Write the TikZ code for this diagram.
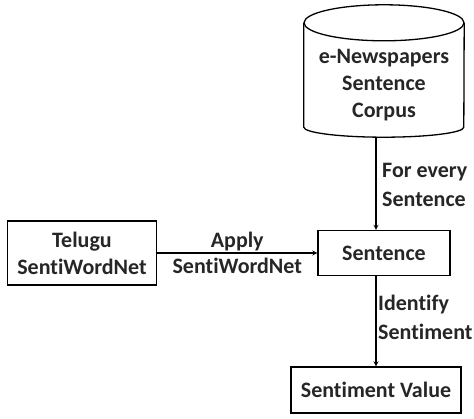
\documentclass[tikz,border=0pt]{standalone}
\usepackage{fontspec}
\setmainfont{Carlito}[Ligatures=NoCommon]
\begin{document}
\begin{tikzpicture}[>=stealth,x=1pt,y=1pt,
  every node/.style={font=\bfseries\fontsize{22}{27}\selectfont,text=black!85},
  box/.style={draw,line width=1.3pt,align=center,inner sep=0pt},
  lbl/.style={align=left,inner sep=0pt,anchor=west}]
\useasboundingbox (0,0) rectangle (474,418);
% Zylinder
\node[minimum width=160,minimum height=132,inner sep=0pt] (corpus) at (384,347) {};
\draw[line width=1.3pt] ([yshift=-18]corpus.north) ellipse (80 and 18);
\draw[line width=1.3pt] ([yshift=-18]corpus.north west) -- ([yshift=10]corpus.south west)
  arc (180:360:80 and 10) -- ([yshift=-18]corpus.north east);
\node[align=center,inner sep=0pt] (corpustxt) at ([yshift=-14]corpus.center)
  {e-Newspapers\\Sentence\\Corpus};
% Knoten
\node[box,minimum width=132,minimum height=45] (sentence) at (384,165) {Sentence};
\node[box,minimum width=149,minimum height=64] (telugu) at (82,165) {Telugu\\SentiWordNet};
\node[box,minimum width=170,minimum height=46] (value) at (376,28) {Sentiment Value};
% Pfeile
\draw[->,line width=1.2pt] (corpus.south -| value.north) -- (sentence.north -| value.north);
\draw[->,line width=1.2pt] (sentence.south -| value.north) -- (value.north);
\draw[->,line width=1.2pt] (telugu) -- (sentence)
  node[midway,align=center,inner sep=0pt] (apply) {Apply\\[-1pt]SentiWordNet};
\node[lbl] (every) at (382,233) {For every\\[2pt]Sentence};
\node[lbl] (ident) at (378,101) {Identify\\[2pt]Sentiment};
\end{tikzpicture}
\end{document}
